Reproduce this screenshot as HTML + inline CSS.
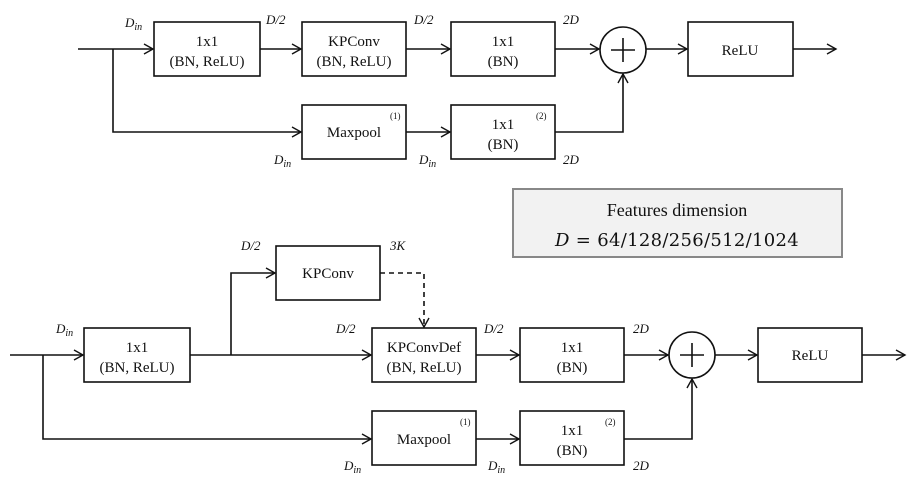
<!DOCTYPE html>
<html><head><meta charset="utf-8"><style>
body{margin:0;background:#fff}
svg text{font-family:"Liberation Serif",serif;fill:#111}
.b{font-size:15px;text-anchor:middle}
.l{font-size:13px;font-style:italic}
.s{font-size:9px}
</style></head><body>
<svg width="909" height="481" viewBox="0 0 909 481" xmlns="http://www.w3.org/2000/svg">
<defs><marker id="a" markerWidth="12" markerHeight="12" refX="10" refY="6" orient="auto" markerUnits="userSpaceOnUse"><path d="M1,1 L10,6 L1,11" fill="none" stroke="#111" stroke-width="1.4"/></marker></defs>
<g fill="none" stroke="#111" stroke-width="1.6">
<rect x="154" y="22" width="106" height="54"/>
<rect x="302" y="22" width="104" height="54"/>
<rect x="451" y="22" width="104" height="54"/>
<rect x="688" y="22" width="105" height="54"/>
<rect x="302" y="105" width="104" height="54"/>
<rect x="451" y="105" width="104" height="54"/>
<circle cx="623" cy="50" r="23"/>
<path d="M611,50H635M623,38V62"/>
<path d="M78,49H153" marker-end="url(#a)"/>
<path d="M113,49V132H301" marker-end="url(#a)"/>
<path d="M260,49H301" marker-end="url(#a)"/>
<path d="M406,49H450" marker-end="url(#a)"/>
<path d="M555,49H599" marker-end="url(#a)"/>
<path d="M646,49H687" marker-end="url(#a)"/>
<path d="M793,49H836" marker-end="url(#a)"/>
<path d="M406,132H450" marker-end="url(#a)"/>
<path d="M555,132H623V74" marker-end="url(#a)"/>
<rect x="84" y="328" width="106" height="54"/>
<rect x="276" y="246" width="104" height="54"/>
<rect x="372" y="328" width="104" height="54"/>
<rect x="372" y="411" width="104" height="54"/>
<rect x="520" y="328" width="104" height="54"/>
<rect x="520" y="411" width="104" height="54"/>
<rect x="758" y="328" width="104" height="54"/>
<circle cx="692" cy="355" r="23"/>
<path d="M680,355H704M692,343V367"/>
<path d="M10,355H83" marker-end="url(#a)"/>
<path d="M43,355V439H371" marker-end="url(#a)"/>
<path d="M190,355H371" marker-end="url(#a)"/>
<path d="M231,355V273H275" marker-end="url(#a)"/>
<path d="M380,273H424V327" stroke-dasharray="5,4" marker-end="url(#a)"/>
<path d="M476,355H519" marker-end="url(#a)"/>
<path d="M624,355H668" marker-end="url(#a)"/>
<path d="M715,355H757" marker-end="url(#a)"/>
<path d="M862,355H905" marker-end="url(#a)"/>
<path d="M476,439H519" marker-end="url(#a)"/>
<path d="M624,439H692V379" marker-end="url(#a)"/>
</g>
<rect x="513" y="189" width="329" height="68" fill="#f2f2f2" stroke="#888" stroke-width="2"/>
<text class="b" x="677" y="216" style="font-size:18px">Features dimension</text>
<text x="677" y="246" style="font-family:'DejaVu Serif',serif;font-size:18px;text-anchor:middle;letter-spacing:0.3px"><tspan font-style="italic">D</tspan> = 64/128/256/512/1024</text>
<text class="b" x="207" y="46">1x1</text><text class="b" x="207" y="66">(BN, ReLU)</text>
<text class="b" x="354" y="46">KPConv</text><text class="b" x="354" y="66">(BN, ReLU)</text>
<text class="b" x="503" y="46">1x1</text><text class="b" x="503" y="66">(BN)</text>
<text class="b" x="740" y="55">ReLU</text>
<text class="b" x="354" y="137">Maxpool</text><text class="s" x="390" y="119">(1)</text>
<text class="b" x="503" y="129">1x1</text><text class="b" x="503" y="149">(BN)</text><text class="s" x="536" y="119">(2)</text>
<text class="l" x="125" y="27">D<tspan font-size="10" dy="3">in</tspan></text>
<text class="l" x="266" y="24">D/2</text>
<text class="l" x="414" y="24">D/2</text>
<text class="l" x="563" y="24">2D</text>
<text class="l" x="274" y="164">D<tspan font-size="10" dy="3">in</tspan></text>
<text class="l" x="419" y="164">D<tspan font-size="10" dy="3">in</tspan></text>
<text class="l" x="563" y="164">2D</text>
<text class="b" x="137" y="352">1x1</text><text class="b" x="137" y="372">(BN, ReLU)</text>
<text class="b" x="328" y="278">KPConv</text>
<text class="b" x="424" y="352">KPConvDef</text><text class="b" x="424" y="372">(BN, ReLU)</text>
<text class="b" x="424" y="444">Maxpool</text><text class="s" x="460" y="425">(1)</text>
<text class="b" x="572" y="352">1x1</text><text class="b" x="572" y="372">(BN)</text>
<text class="b" x="572" y="435">1x1</text><text class="b" x="572" y="455">(BN)</text><text class="s" x="605" y="425">(2)</text>
<text class="b" x="810" y="360">ReLU</text>
<text class="l" x="56" y="333">D<tspan font-size="10" dy="3">in</tspan></text>
<text class="l" x="241" y="250">D/2</text>
<text class="l" x="390" y="250">3K</text>
<text class="l" x="336" y="333">D/2</text>
<text class="l" x="484" y="333">D/2</text>
<text class="l" x="633" y="333">2D</text>
<text class="l" x="344" y="470">D<tspan font-size="10" dy="3">in</tspan></text>
<text class="l" x="488" y="470">D<tspan font-size="10" dy="3">in</tspan></text>
<text class="l" x="633" y="470">2D</text>
</svg>
</body></html>
